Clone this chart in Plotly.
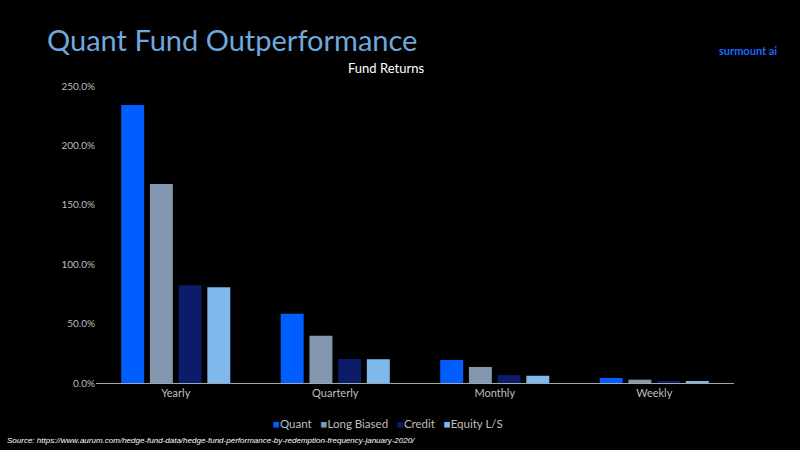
import plotly.graph_objects as go

categories = ["Yearly", "Quarterly", "Monthly", "Weekly"]
series_names = ["Quant", "Long Biased", "Credit", "Equity L/S"]
quant = [2.34, 0.583, 0.194, 0.042]
long_biased = [1.675, 0.398, 0.135, 0.028]
credit = [0.822, 0.202, 0.067, 0.011]
equity_ls = [0.805, 0.200, 0.061, 0.012]
colors = ["#005EFF", "#8497B0", "#0A1C6A", "#7EB8EC"]
tick_vals = [0, 0.5, 1.0, 1.5, 2.0, 2.5]
tick_text = ["0.0%", "50.0%", "100.0%", "150.0%", "200.0%", "250.0%"]

fig = go.Figure()
for name, vals, col in zip(series_names, [quant, long_biased, credit, equity_ls], colors):
    fig.add_trace(go.Bar(x=categories, y=vals, name=name, marker=dict(color=col, line=dict(width=0))))

fig.update_layout(
    width=800, height=450,
    paper_bgcolor="black", plot_bgcolor="black",
    margin=dict(l=96, r=66, t=86, b=67, autoexpand=False),
    barmode="group", bargap=0.28, bargroupgap=0.2,
    font=dict(family="Lato, Open Sans, sans-serif", color="#BFBFBF", size=11),
    showlegend=False,
    xaxis=dict(showgrid=False, showline=True, linecolor="#A6A6A6", linewidth=1,
               ticks="", tickfont=dict(size=11, color="#BFBFBF")),
    yaxis=dict(range=[0, 2.5], tickvals=tick_vals, ticktext=tick_text, showgrid=False,
               zeroline=False, showline=False, ticks="", tickfont=dict(size=10, color="#BFBFBF")),
)

# legend as coloured text
legend_parts = [f"<span style='color:{c}'>■</span>{n}" for n, c in zip(series_names, colors)]
fig.add_annotation(text="&nbsp;&nbsp;&nbsp;".join(legend_parts), xref="paper", yref="paper",
                   x=0.458, y=-0.135, xanchor="center", yanchor="middle", showarrow=False,
                   font=dict(size=11.5, color="#BFBFBF", family="Lato, sans-serif"))

fig.add_annotation(text="Quant Fund Outperformance", xref="paper", yref="paper",
                   x=-0.08, y=1.155, xanchor="left", yanchor="middle", showarrow=False,
                   font=dict(size=29, color="#6FA8DC", family="Lato, sans-serif"))
fig.add_annotation(text="Fund Returns", xref="paper", yref="paper",
                   x=0.455, y=1.06, xanchor="center", yanchor="middle", showarrow=False,
                   font=dict(size=13, color="white", family="Lato, sans-serif"))
fig.add_annotation(text="<i>Source: https://www.aurum.com/hedge-fund-data/hedge-fund-performance-by-redemption-frequency-january-2020/</i>",
                   xref="paper", yref="paper", x=-0.142, y=-0.195, xanchor="left", yanchor="middle",
                   showarrow=False, font=dict(size=8, color="white", family="Liberation Sans, sans-serif"))
fig.add_annotation(text="<b>surmount ai</b>", xref="paper", yref="paper",
                   x=1.022, y=1.121, xanchor="center", yanchor="middle", showarrow=False,
                   font=dict(size=11, color="#1A6BFF", family="Lato, sans-serif"))

fig.write_html("out.html")
